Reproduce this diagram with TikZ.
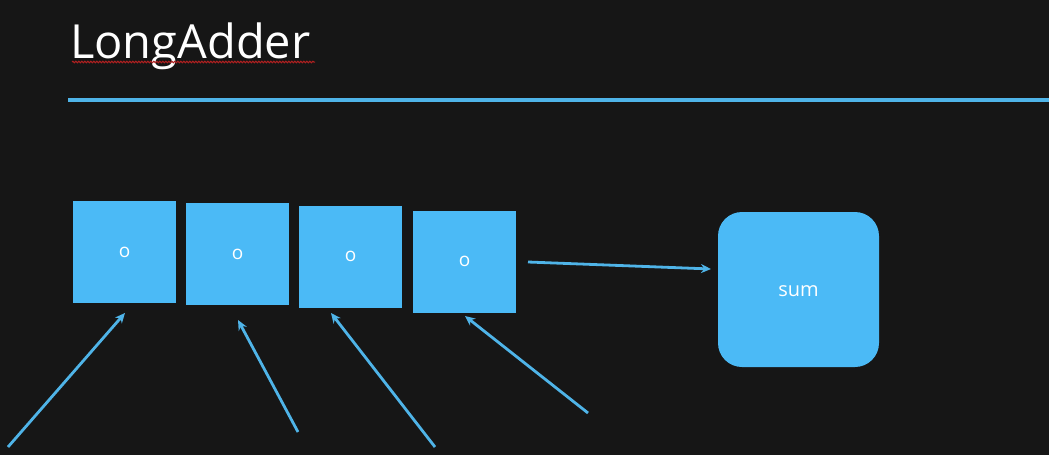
\documentclass[tikz,border=0pt]{standalone}
\usepackage{fontspec}
\setmainfont{Open Sans}
\usetikzlibrary{arrows.meta,decorations.pathmorphing}
\definecolor{board}{HTML}{161616}
\definecolor{cellblue}{HTML}{4BBAF6}
\definecolor{lineblue}{HTML}{4FB4E8}
\definecolor{squig}{HTML}{B02020}
\tikzset{
  cell/.style={fill=cellblue, draw=none, minimum width=103pt, minimum height=102pt, inner sep=0pt, text=white, font=\fontsize{19}{19}\selectfont},
  sumbox/.style={fill=cellblue, draw=none, rounded corners=24pt, minimum width=161pt, minimum height=155pt, inner sep=0pt, text=white, font=\fontsize{20}{20}\selectfont},
  conn/.style={draw=lineblue, line width=2.8pt, -{Stealth[length=10pt,width=9pt]}},
}
\begin{document}
\begin{tikzpicture}[x=1pt,y=-1pt]
\fill[board] (0,0) rectangle (1049,455);
\useasboundingbox (0,0) rectangle (1049,455);
% title
\node[anchor=base west, inner sep=0pt, text=white, font=\fontsize{47}{47}\selectfont] (title) at (70,58) {LongAdder};
\draw[squig, line width=1pt, decorate, decoration={snake, amplitude=0.8pt, segment length=3pt}] (72,62) -- (315,62);
% rule
\draw[lineblue, line width=3.5pt] (68,100) -- (1049,100);
% cells
\node[cell] (c1) at (124.5,252) {o};
\node[cell] (c2) at (237.5,254) {o};
\node[cell] (c3) at (350.5,256.5) {o};
\node[cell] (c4) at (464.5,261.5) {o};
\node[sumbox, text depth=0pt] (sum) at (798.5,289.5) {\raisebox{-4pt}{sum}};
% free ends
\coordinate (a1) at (8,447);
\coordinate (t1) at (125,313);
\coordinate (a2) at (298,432);
\coordinate (t2) at (238,320);
\coordinate (a3) at (435,447);
\coordinate (t3) at (331,313);
\coordinate (a4) at (588,413);
\coordinate (t4) at (465,316);
\coordinate (s0) at (528,262);
\coordinate (s1) at (711,269);
\draw[conn] (a1) -- (t1);
\draw[conn] (a2) -- (t2);
\draw[conn] (a3) -- (t3);
\draw[conn] (a4) -- (t4);
\draw[conn] (s0) -- (s1);
\end{tikzpicture}
\end{document}
